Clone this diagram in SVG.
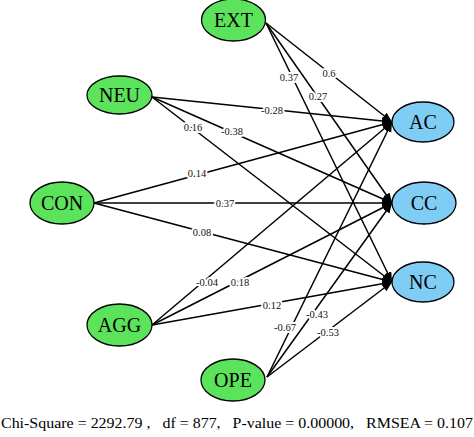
<svg xmlns="http://www.w3.org/2000/svg" width="474" height="437" viewBox="0 0 474 437">
<style>
.src{fill:#5ce35c;stroke:#000;stroke-width:1.3}
.dst{fill:#7fcdf4;stroke:#000;stroke-width:1.3}
.nl{font-family:"Liberation Serif",serif;font-size:20px;text-anchor:middle;fill:#000}
.e{stroke:#000;stroke-width:1.5;fill:none;marker-end:url(#ah)}
.el{font-family:"Liberation Serif",serif;font-size:10.5px;text-anchor:middle;fill:#111;paint-order:stroke;stroke:#fff;stroke-width:4px;stroke-linejoin:round}
.ft{font-family:"Liberation Serif",serif;font-size:15px;fill:#000;white-space:pre}
</style>
<defs>
<marker id="ah" markerUnits="userSpaceOnUse" markerWidth="11" markerHeight="9" refX="10" refY="4" orient="auto">
<path d="M0,0 L10,4 L0,8 z" fill="#000"/>
</marker>
</defs>
<g id="connectors">
<line class="e" x1="266" y1="23" x2="392" y2="122"/>
<line class="e" x1="266" y1="23" x2="392" y2="203"/>
<line class="e" x1="266" y1="23" x2="392" y2="282"/>
<line class="e" x1="152" y1="97" x2="392" y2="122"/>
<line class="e" x1="152" y1="97" x2="392" y2="203"/>
<line class="e" x1="152" y1="97" x2="392" y2="282"/>
<line class="e" x1="94" y1="203" x2="392" y2="122"/>
<line class="e" x1="94" y1="203" x2="392" y2="203"/>
<line class="e" x1="94" y1="203" x2="392" y2="282"/>
<line class="e" x1="152" y1="325" x2="392" y2="122"/>
<line class="e" x1="152" y1="325" x2="392" y2="203"/>
<line class="e" x1="152" y1="325" x2="392" y2="282"/>
<line class="e" x1="267" y1="377" x2="392" y2="122"/>
<line class="e" x1="267" y1="377" x2="392" y2="203"/>
<line class="e" x1="267" y1="377" x2="392" y2="282"/>
<text class="el" x="329" y="76.5">0.6</text>
<text class="el" x="289" y="80.5">0.37</text>
<text class="el" x="318" y="99.5">0.27</text>
<text class="el" x="272" y="113.5">-0.28</text>
<text class="el" x="193" y="130.5">0.16</text>
<text class="el" x="232" y="134.5">-0.38</text>
<text class="el" x="197" y="176.5">0.14</text>
<text class="el" x="225" y="206.5">0.37</text>
<text class="el" x="202" y="235.5">0.08</text>
<text class="el" x="207" y="285.5">-0.04</text>
<text class="el" x="240" y="285.5">0.18</text>
<text class="el" x="272" y="308.5">0.12</text>
<text class="el" x="285" y="330.5">-0.67</text>
<text class="el" x="317" y="317.5">-0.43</text>
<text class="el" x="328" y="335.5">-0.53</text>
</g>
<g id="EXT"><ellipse class="src" cx="233.5" cy="20" rx="32" ry="21"/><text class="nl" x="233.5" y="27">EXT</text></g>
<g id="NEU"><ellipse class="src" cx="119.5" cy="95" rx="32.5" ry="19"/><text class="nl" x="119.5" y="102">NEU</text></g>
<g id="CON"><ellipse class="src" cx="62" cy="203" rx="32" ry="21"/><text class="nl" x="62" y="210">CON</text></g>
<g id="AGG"><ellipse class="src" cx="119.5" cy="325" rx="32.5" ry="21"/><text class="nl" x="119.5" y="332">AGG</text></g>
<g id="OPE"><ellipse class="src" cx="233" cy="380" rx="32" ry="21"/><text class="nl" x="233" y="387">OPE</text></g>
<g id="AC"><ellipse class="dst" cx="423" cy="122" rx="31" ry="20"/><text class="nl" x="423" y="129">AC</text></g>
<g id="CC"><ellipse class="dst" cx="424" cy="203" rx="32" ry="21"/><text class="nl" x="424" y="210">CC</text></g>
<g id="NC"><ellipse class="dst" cx="423" cy="282" rx="31" ry="20"/><text class="nl" x="423" y="289">NC</text></g>
<text class="ft" x="1" y="428" textLength="472" lengthAdjust="spacingAndGlyphs">Chi-Square = 2292.79 ,   df = 877,   P-value = 0.00000,   RMSEA = 0.107</text>
</svg>
